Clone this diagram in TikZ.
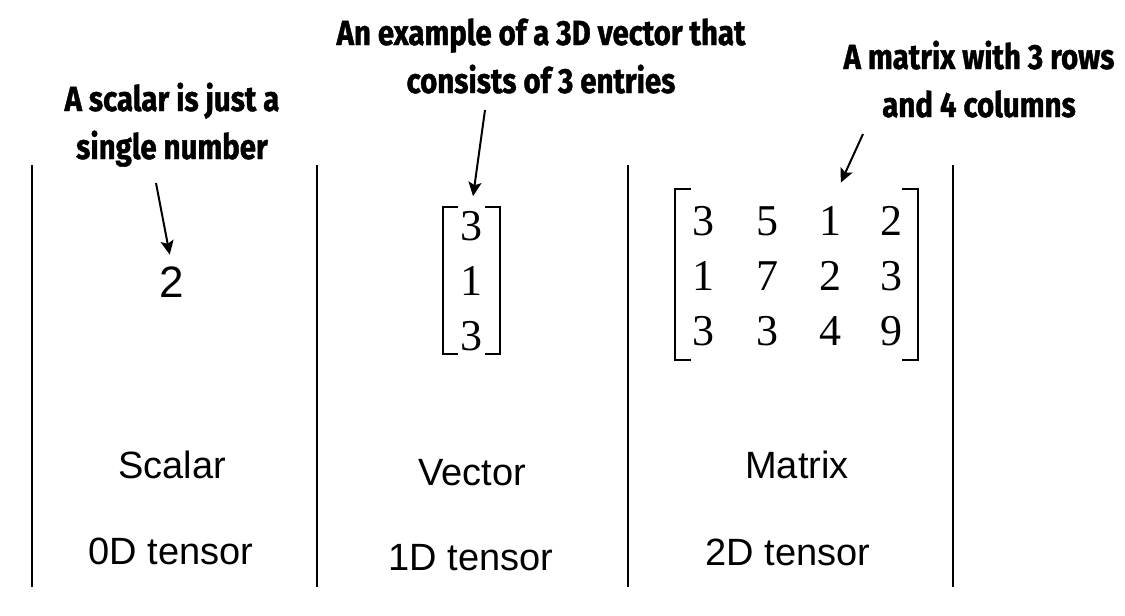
\documentclass[tikz,border=0pt]{standalone}
\usepackage{fontspec}
\setmainfont{Liberation Sans}
\newfontfamily\notefont[FakeStretch=0.84,FakeBold=1.2]{Fira Sans}
\newfontfamily\numfont{Liberation Serif}
\usetikzlibrary{arrows.meta}
\begin{document}
\begin{tikzpicture}[x=1pt,y=-1pt,
  note/.style={font=\notefont\bfseries\fontsize{35}{48}\selectfont,align=center,anchor=base,inner sep=0pt},
  kind/.style={font=\fontsize{38}{40}\selectfont,anchor=base,inner sep=0pt},
  entry/.style={font=\numfont\fontsize{44}{44}\selectfont,inner sep=0pt},
  arr/.style={-{Stealth[length=14pt,width=13pt,inset=3pt]},line width=2pt},
  rule/.style={line width=1.3pt},
  brk/.style={line width=2pt}]
\useasboundingbox (0,0) rectangle (1125,616);
\draw[rule] (32,165) -- (32,587);
\draw[rule] (317,165) -- (317,587);
\draw[rule] (628,165) -- (628,587);
\draw[rule] (953,165) -- (953,587);
\node[note] (scalarnote) at (172,159) {A scalar is just a\\single number};
\node[note] (vectornote) at (541,93) {An example of a 3D vector that\\consists of 3 entries};
\node[note] (matrixnote) at (979,117) {A matrix with 3 rows\\and 4 columns};
\node[font=\fontsize{44}{44}\selectfont,inner sep=0pt] (two) at (172,282) {2};
\node[entry] (v1) at (471,226) {3};
\node[entry] (v2) at (471,281) {1};
\node[entry] (v3) at (471,336) {3};
\draw[brk] (458,207) -- (443,207) -- (443,354) -- (458,354);
\draw[brk] (485,207) -- (500,207) -- (500,354) -- (485,354);
\node[entry] (m11) at (703,221) {3}; \node[entry] (m12) at (767,221) {5};
\node[entry] (m13) at (830,221) {1}; \node[entry] (m14) at (891,221) {2};
\node[entry] (m21) at (703,276) {1}; \node[entry] (m22) at (767,276) {7};
\node[entry] (m23) at (830,276) {2}; \node[entry] (m24) at (891,276) {3};
\node[entry] (m31) at (703,331) {3}; \node[entry] (m32) at (767,331) {3};
\node[entry] (m33) at (830,331) {4}; \node[entry] (m34) at (891,331) {9};
\draw[brk] (691,189) -- (675,189) -- (675,360) -- (691,360);
\draw[brk] (902,189) -- (918,189) -- (918,360) -- (902,360);
\coordinate (s0) at (156,183);
\coordinate (v0) at (485,110);
\coordinate (m0) at (863,134);
\draw[arr,shorten >=12pt] (s0) -- (two.north);
\draw[arr,shorten >=15pt] (v0) -- (v1.north);
\draw[arr,shorten >=26pt] (m0) -- (m13.north);
\node[kind] (scalar) at (172,478) {Scalar};
\node[kind] (scalarrank) at (171,564) {0D tensor};
\node[kind] (vector) at (472,485) {Vector};
\node[kind] (vectorrank) at (471,570) {1D tensor};
\node[kind] (matrix) at (797,478) {Matrix};
\node[kind] (matrixrank) at (788,565) {2D tensor};
\end{tikzpicture}
\end{document}
